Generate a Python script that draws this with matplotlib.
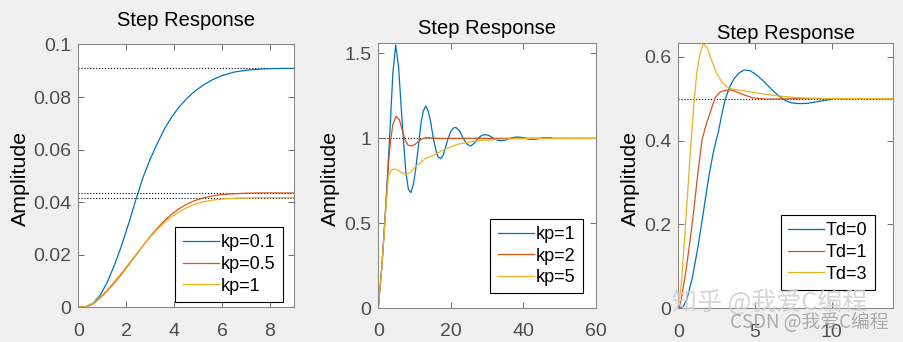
import matplotlib
matplotlib.use('Agg')
import matplotlib.pyplot as plt
from matplotlib.ticker import FuncFormatter

plt.rcParams["font.family"] = ["Liberation Sans", "DejaVu Sans"]

BLUE, RED, YELLOW = "#0072BD", "#D95319", "#EDB120"

# --- panel 1: kp = 0.1 / 0.5 / 1 ---
P1_T = [0, 0.3, 0.6, 0.9, 1.2, 1.5, 1.8, 2.1, 2.4, 2.7, 3.0, 3.3, 3.6, 3.9, 4.2,
        4.5, 4.8, 5.2, 5.6, 6.0, 6.5, 7.0, 7.5, 8.0, 8.5, 9.0]
P1_KP01 = [0, 0.0002, 0.0015, 0.0045, 0.0095, 0.0160, 0.0235, 0.0320, 0.0410,
           0.0495, 0.0565, 0.0625, 0.0680, 0.0725, 0.0762, 0.0792, 0.0818,
           0.0845, 0.0866, 0.0882, 0.0895, 0.0902, 0.0906, 0.0908, 0.0909, 0.0909]
P1_KP05 = [0, 0.0001, 0.0012, 0.0035, 0.0062, 0.0093, 0.0126, 0.0162, 0.0198,
           0.0235, 0.0270, 0.0302, 0.0330, 0.0355, 0.0375, 0.0391, 0.0404,
           0.0416, 0.0424, 0.0429, 0.0432, 0.0434, 0.0435, 0.0435, 0.0435, 0.0435]
P1_KP1 = [0, 0.0002, 0.0014, 0.0038, 0.0066, 0.0098, 0.0131, 0.0166, 0.0201,
          0.0236, 0.0268, 0.0297, 0.0323, 0.0345, 0.0363, 0.0378, 0.0390,
          0.0401, 0.0408, 0.0412, 0.0415, 0.0416, 0.0417, 0.0417, 0.0417, 0.0417]
P1_FINAL = [0.0909, 0.0435, 0.0417]
P1_LABELS = ["kp=0.1", "kp=0.5", "kp=1"]

# --- panel 2: kp = 1 / 2 / 5 ---
P2_T_KP1 = [0, 1.0, 2.0, 2.8, 3.4, 4.0, 4.8, 5.6, 6.2, 6.9, 7.6, 8.3, 9.0, 9.7,
            10.4, 11.1, 11.8, 12.4, 13.1, 13.8, 14.5, 15.2, 15.9, 16.5, 17.2,
            17.9, 18.6, 19.3, 20.0, 20.7, 21.4, 22.4, 23.45, 24.5, 25.5, 26.5,
            27.5, 28.6, 29.6, 30.7, 31.8, 33.0, 34.1, 35.2, 36.4, 37.5, 38.6,
            39.6, 40.6, 41.7, 42.7, 43.7, 44.7, 45.7, 46.6, 47.3, 48.0]
P2_KP1 = [0, 0.25, 0.58, 0.88, 1.12, 1.38, 1.55, 1.42, 1.22, 1.0, 0.8, 0.7, 0.68,
          0.73, 0.83, 0.96, 1.09, 1.16, 1.19, 1.16, 1.09, 1.0, 0.93, 0.89, 0.88,
          0.9, 0.95, 1.0, 1.04, 1.06, 1.065, 1.045, 1.0, 0.965, 0.955, 0.97,
          1.0, 1.017, 1.022, 1.015, 1.0, 0.988, 0.986, 0.99, 1.0, 1.006, 1.008,
          1.005, 1.0, 0.995, 0.994, 0.996, 1.0, 1.003, 1.004, 1.003, 1.001]
P2_T_KP2 = [0, 1, 2, 2.8, 3.4, 4.0, 4.9, 5.8, 6.6, 7.4, 8.2, 9.2, 10.2, 11.2,
            12.2, 13.1, 14, 15, 16, 18, 20, 25, 30, 40, 50, 60]
P2_KP2 = [0, 0.25, 0.58, 0.85, 0.99, 1.08, 1.13, 1.11, 1.05, 0.99, 0.96, 0.955,
          0.965, 0.985, 0.998, 1.003, 1.004, 1.002, 1.0, 0.999, 1.0, 1.0, 1.0,
          1.0, 1.0, 1.0]
P2_T_KP5 = [0, 1, 2, 2.8, 3.5, 4.3, 5.2, 6.2, 7.2, 8.0, 9.0, 10.1, 11.5, 12.9,
            15.0, 17.5, 20.0, 22.1, 25.0, 29.0, 32, 35, 38, 42, 46, 50, 55, 60]
P2_KP5 = [0, 0.25, 0.56, 0.78, 0.81, 0.82, 0.815, 0.80, 0.79, 0.79, 0.80, 0.83,
          0.855, 0.88, 0.897, 0.927, 0.95, 0.966, 0.978, 0.988, 0.993, 0.996,
          0.998, 0.999, 1.0, 1.0, 1.0, 1.0]
P2_FINAL = [1.0]
P2_LABELS = ["kp=1", "kp=2", "kp=5"]

# --- panel 3: Td = 0 / 1 / 3 ---
P3_T_TD0 = [0, 0.3, 0.55, 0.9, 1.3, 1.7, 1.97, 2.3, 2.63, 2.85, 3.07, 3.35, 3.62,
            3.95, 4.28, 4.65, 5.05, 5.6, 6.15, 6.6, 7.0, 7.35, 7.9, 8.45, 9.1,
            9.76, 10.0]
P3_TD0 = [0, 0.003, 0.02, 0.07, 0.15, 0.245, 0.31, 0.375, 0.424, 0.465, 0.50,
          0.528, 0.547, 0.561, 0.568, 0.567, 0.558, 0.54, 0.519, 0.505, 0.495,
          0.49, 0.488, 0.489, 0.493, 0.497, 0.498]
P3_T_TD1 = [0, 0.1, 0.22, 0.5, 0.8, 1.0, 1.27, 1.54, 1.75, 1.97, 2.2, 2.41, 2.7,
            2.96, 3.3, 3.6, 4.2, 4.83, 5.3, 5.7, 6.5, 8, 10, 12, 14]
P3_TD1 = [0, 0.005, 0.027, 0.09, 0.17, 0.23, 0.32, 0.40, 0.43, 0.455, 0.48,
          0.503, 0.515, 0.519, 0.521, 0.519, 0.51, 0.502, 0.50, 0.499, 0.499,
          0.5, 0.5, 0.5, 0.5]
P3_T_TD3 = [0, 0.2, 0.4, 0.6, 0.8, 1.0, 1.2, 1.4, 1.64, 1.9, 2.19, 2.5, 2.85,
            3.2, 3.51, 4.2, 4.83, 5.6, 6.36, 7.5, 8.5, 9.8, 11, 12.5, 14]
P3_TD3 = [0, 0.06, 0.16, 0.27, 0.38, 0.48, 0.56, 0.605, 0.632, 0.62, 0.59, 0.56,
          0.539, 0.528, 0.523, 0.519, 0.515, 0.511, 0.507, 0.503, 0.501, 0.5,
          0.5, 0.5, 0.5]
P3_FINAL = [0.5]
P3_LABELS = ["Td=0", "Td=1", "Td=3"]


def draw_panel(ax, curves, labels, finals, xlim, ylim, xticks, yticks,
               title_pad, label_x, legend_anchor):
    for v in finals:
        ax.axhline(v, color="black", ls=":", lw=0.8, zorder=1)
    for (t, y), c, lab in zip(curves, [BLUE, RED, YELLOW], labels):
        ax.plot(t, y, color=c, lw=0.9, label=lab, zorder=2)

    ax.set_xlim(*xlim)
    ax.set_ylim(*ylim)
    ax.set_xticks(xticks)
    ax.set_yticks(yticks)
    ax.yaxis.set_major_formatter(FuncFormatter(lambda v, p: f"{v:g}"))
    ax.xaxis.set_major_formatter(FuncFormatter(lambda v, p: f"{v:g}"))
    ax.tick_params(direction="in", top=True, right=True, length=4, width=0.6,
                   color="#555555", labelcolor="#4d4d4d", labelsize=14)
    ax.tick_params(axis="x", pad=11)
    ax.tick_params(axis="y", pad=5)
    for s in ax.spines.values():
        s.set_color("#8a8a8a")
        s.set_linewidth(0.8)

    ax.set_title("Step Response", fontsize=14.5, pad=title_pad)
    ax.set_ylabel("Amplitude", fontsize=15.4)
    ax.yaxis.set_label_coords(label_x, 0.49)

    leg = ax.legend(loc="lower right", bbox_to_anchor=legend_anchor,
                    borderaxespad=0, fontsize=13, fancybox=False,
                    framealpha=1, edgecolor="black", handlelength=2.0,
                    handletextpad=0.12, labelspacing=0.26, borderpad=0.4)
    leg.get_frame().set_linewidth(0.8)


fig = plt.figure(figsize=(9.04, 3.42), dpi=100, facecolor="#f0f0f0")

ax1 = fig.add_axes([0.0868, 0.1015, 0.2384, 0.7684])
draw_panel(ax1, [(P1_T, P1_KP01), (P1_T, P1_KP05), (P1_T, P1_KP1)],
           P1_LABELS, P1_FINAL, (0, 9), (0, 0.1), [0, 2, 4, 6, 8],
           [0, 0.02, 0.04, 0.06, 0.08, 0.1], 13, -0.225, (0.948, 0.021))

ax2 = fig.add_axes([0.4185, 0.0994, 0.2403, 0.774])
draw_panel(ax2, [(P2_T_KP1, P2_KP1), (P2_T_KP2, P2_KP2), (P2_T_KP5, P2_KP5)],
           P2_LABELS, P2_FINAL, (0, 60), (0, 1.56), [0, 20, 40, 60],
           [0, 0.5, 1, 1.5], 7, -0.176, (0.941, 0.055))

ax3 = fig.add_axes([0.7503, 0.0985, 0.2378, 0.775])
draw_panel(ax3, [(P3_T_TD0, P3_TD0), (P3_T_TD1, P3_TD1), (P3_T_TD3, P3_TD3)],
           P3_LABELS, P3_FINAL, (0, 14), (0, 0.632), [0, 5, 10],
           [0, 0.2, 0.4, 0.6], 3, -0.178, (0.915, 0.069))

# watermark (overlaps the ticks in the source image too)
cjk = ["Noto Sans CJK SC", "DejaVu Sans"]
fig.text(672 / 904, 1 - 303 / 342, "知乎 @我爱C编程", fontsize=18, family=cjk,
         color="#cfcfcf", alpha=0.85, ha="left", va="center")
fig.text(730 / 904, 1 - 323 / 342, "CSDN @我爱C编程", fontsize=13.5, family=cjk,
         color="#9a9a9a", alpha=0.8, ha="left", va="center")

fig.savefig("out.png", dpi=100, facecolor=fig.get_facecolor())
